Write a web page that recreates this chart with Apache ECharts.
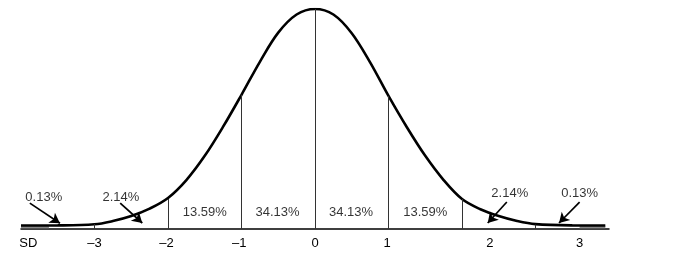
<!DOCTYPE html>
<html><head><meta charset="utf-8">
<script src="https://cdn.jsdelivr.net/npm/echarts@6/dist/echarts.min.js"></script>
<style>html,body{margin:0;padding:0;background:#fff}#c{width:700px;height:265px}</style>
</head><body><div id="c"></div>
<script>
// Curve (x in SD units, y = relative height)
const sdX = [-4,-3.5,-3,-2.75,-2.5,-2.25,-2,-1.75,-1.5,-1.25,-1,-0.75,-0.5,-0.25,0,0.25,0.5,0.75,1,1.25,1.5,1.75,2,2.25,2.5,2.75,3,3.5,3.95];
const density = [0.0064,0.0066,0.0085,0.0145,0.0236,0.037,0.0564,0.089,0.133,0.186,0.244,0.304,0.357,0.390,0.400,0.390,0.356,0.303,0.242,0.185,0.133,0.089,0.0545,0.036,0.0235,0.0145,0.0088,0.0066,0.0064];

// Vertical dividers
const dividerX = [-3,-2,-1,0,1,2,3];
const dividerTop = [0.009,0.0545,0.244,0.4,0.242,0.0545,0.008];

// Grey tail bands
const tailLeftX = [-4,-3.62];
const tailRightX = [3.6,3.95];
const tailY = 0.0036;

// Percent labels
const pctText = ['0.13%','2.14%','13.59%','34.13%','34.13%','13.59%','2.14%','0.13%'];
const pctX = [-3.69,-2.64,-1.50,-0.51,0.49,1.50,2.65,3.60];
const pctY = [0.058,0.058,0.031,0.031,0.031,0.031,0.065,0.065];

// Arrows
const arrowFromX = [-3.88,-2.65,2.61,3.60];
const arrowFromY = [0.047,0.047,0.049,0.049];
const arrowToX = [-3.47,-2.35,2.35,3.32];
const arrowToY = [0.0105,0.0109,0.0109,0.0109];

// Axis tick labels
const tickText = ['SD','\u20133','\u20132','\u20131','0','1','2','3'];
const tickPos = [-3.90,-3.0,-2.02,-1.03,0,0.98,2.38,3.60];

const FONT = 'Liberation Sans, Arial, Helvetica, sans-serif';
const chart = echarts.init(document.getElementById('c'), null, {renderer:'canvas'});

const curveData = sdX.map((x,i)=>[x,density[i]]);
const dividerLines = dividerX.map((x,i)=>[{coord:[x,0]},{coord:[x,dividerTop[i]]}]);
const arrowLines = arrowFromX.map((x,i)=>[{coord:[x,arrowFromY[i]]},{coord:[arrowToX[i],arrowToY[i]]}]);

chart.setOption({
  animation:false,
  backgroundColor:'#fff',
  grid:{left:21,right:91,top:9,bottom:36,containLabel:false},
  xAxis:{
    type:'value',min:-4,max:4,
    splitLine:{show:false},
    axisTick:{show:false},
    axisLine:{show:true,onZero:false,lineStyle:{color:'#000',width:1.5}},
    axisLabel:{
      customValues:tickPos,
      showMinLabel:true,showMaxLabel:true,
      margin:8,
      color:'#000',fontFamily:FONT,fontSize:13,
      formatter:function(v){
        let best=0,bd=1e9;
        tickPos.forEach((p,i)=>{const d=Math.abs(p-v); if(d<bd){bd=d;best=i;}});
        return tickText[best];
      }
    }
  },
  yAxis:{type:'value',min:0,max:0.4,show:false},
  series:[
    {
      type:'line',
      data:[[tailLeftX[0],tailY],[tailLeftX[1],tailY]],
      symbol:'none',lineStyle:{color:'#888',width:2.5},silent:true
    },
    {
      type:'line',
      data:[[tailRightX[0],tailY],[tailRightX[1],tailY]],
      symbol:'none',lineStyle:{color:'#888',width:2.5},silent:true
    },
    {
      type:'line',
      data:curveData,
      smooth:0.35,
      symbol:'none',
      lineStyle:{color:'#000',width:2.6},
      silent:true,
      markLine:{
        silent:true,symbol:['none','none'],
        label:{show:false},
        lineStyle:{color:'#333',width:1,type:'solid'},
        emphasis:{disabled:true},
        data:dividerLines
      },
      z:3
    },
    {
      type:'scatter',
      data:pctX.map((x,i)=>[x,pctY[i]]),
      symbolSize:0,
      silent:true,
      label:{
        show:true,position:'inside',color:'#000',fontFamily:FONT,fontSize:13,
        formatter:function(p){return pctText[p.dataIndex];}
      },
      markLine:{
        silent:true,symbol:['none','arrow'],symbolSize:[9,10],
        label:{show:false},
        lineStyle:{color:'#000',width:1.7,type:'solid'},
        emphasis:{disabled:true},
        data:arrowLines
      }
    }
  ]
});
</script>
</body></html>
